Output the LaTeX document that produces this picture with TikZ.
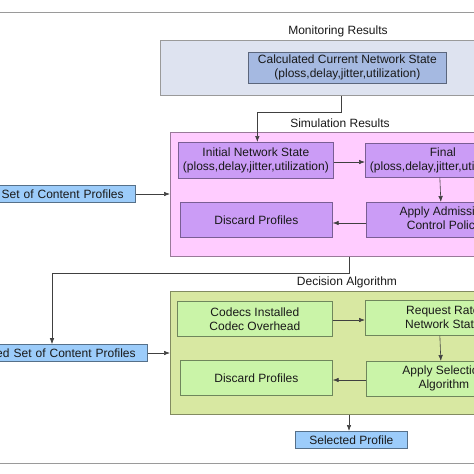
\documentclass[tikz,border=0pt]{standalone}
\usepackage{fontspec}
\setmainfont{Liberation Sans}
\usetikzlibrary{arrows.meta}
\definecolor{monfill}{HTML}{DEE3F0}
\definecolor{calcfill}{HTML}{A5B9E1}
\definecolor{simfill}{HTML}{FFCCFF}
\definecolor{simblk}{HTML}{CB9CF6}
\definecolor{decfill}{HTML}{D8E8A2}
\definecolor{decblk}{HTML}{CAF4A8}
\definecolor{sidefill}{HTML}{9CCCFA}
\definecolor{edge}{HTML}{9A9A9A}
\begin{document}
\begin{tikzpicture}[
  x=1pt, y=-1pt,
  every node/.style={font=\fontsize{12}{14}\selectfont, align=center, text=black!90},
  grp/.style={draw=edge, line width=0.7pt, anchor=north west, inner sep=0pt},
  blk/.style={draw=black!45, line width=0.7pt, anchor=north west, inner sep=0pt,
    minimum width=155pt, minimum height=35pt},
  % side boxes run off the left edge, text kept to the right
  side/.style={draw=sidefill!55!black, fill=sidefill, line width=0.7pt, anchor=east,
    text width=150pt, align=right, inner xsep=12pt, inner ysep=0pt, minimum height=17pt},
  arr/.style={draw=black!75, line width=0.6pt, -{Latex[length=6pt,width=4.5pt]}}
]
\useasboundingbox (0,0) rectangle (474,474);
\clip (0,0) rectangle (474,474);
\fill[white] (0,0) rectangle (474,474);
\draw[edge, line width=1pt] (-10,12) rectangle (490,463);

% monitoring
\node (monlbl) at (338,31) {Monitoring Results};
\node[grp, fill=monfill, minimum width=400pt, minimum height=55pt] (mon) at (160,40) {};
\node[blk, fill=calcfill, draw=calcfill!55!black, minimum width=198pt, minimum height=31pt] (calc) at (248,52)
  {Calculated Current Network State\\(ploss,delay,jitter,utilization)};

% simulation
\node (simlbl) at (340,123) {Simulation Results};
\node[grp, fill=simfill, draw=simfill!60!black, minimum width=400pt, minimum height=124pt] (sim) at (170,132) {};
\node[blk, fill=simblk, draw=simblk!60!black, minimum height=36pt] (init) at (178,142)
  {Initial Network State\\(ploss,delay,jitter,utilization)};
\node[blk, fill=simblk, draw=simblk!60!black, minimum height=34pt] (final) at (365,143)
  {Final\\(ploss,delay,jitter,utilization)};
\node[blk, fill=simblk, draw=simblk!60!black] (adm) at (366,202)
  {Apply Admission\\Control Policy};
\node[blk, fill=simblk, draw=simblk!60!black, minimum width=152pt] (disc1) at (180,202)
  {Discard Profiles};
\node[side] (setcp) at (136,194) {Set of Content Profiles};

% decision
\node (declbl) at (347,282) {Decision Algorithm};
\node[grp, fill=decfill, draw=decfill!60!black, minimum width=400pt, minimum height=123pt] (dec) at (170,291) {};
\node[blk, fill=decblk, draw=decblk!55!black] (codec) at (177,301)
  {Codecs Installed\\Codec Overhead};
\node[blk, fill=decblk, draw=decblk!55!black] (req) at (365,300)
  {Request Rate\\Network State};
\node[blk, fill=decblk, draw=decblk!55!black] (sel) at (366,361)
  {Apply Selection\\Algorithm};
\node[blk, fill=decblk, draw=decblk!55!black, minimum width=152pt] (disc2) at (180,360)
  {Discard Profiles};
\node[side] (redcp) at (148,353) {ed Set of Content Profiles};
\node[side, anchor=north west, text width=, align=center, inner xsep=0pt, minimum width=112pt] (out) at (295,431)
  {Selected Profile};

% connectors
\coordinate (m1) at (341,112);
\coordinate (s1) at (349,273);
\coordinate (s2) at (52,273);
\draw[arr] (m1 |- mon.south) -- (m1) -| ([xshift=1.5pt]init.north);
\draw[arr] (init.east |- 0,162) -- (final.west |- 0,162);
\draw[arr] ([xshift=-3pt]final.south) -- ([xshift=-3pt]adm.north);
\draw[arr] (adm.west |- 0,223) -- (disc1.east |- 0,223);
\draw[arr] (setcp.east) -- (setcp.east -| sim.west);
\draw[arr] (s1 |- sim.south) -- (s1) -- (s2) -- (s2 |- redcp.north);
\draw[arr] (redcp.east) -- (redcp.east -| dec.west);
\draw[arr] (codec.east |- 0,320) -- (req.west |- 0,320);
\draw[arr] ([xshift=-3pt]req.south) -- ([xshift=-3pt]sel.north);
\draw[arr] (sel.west |- 0,380) -- (disc2.east |- 0,380);
\draw[arr] (s1 |- dec.south) -- (s1 |- out.north);
\end{tikzpicture}
\end{document}
